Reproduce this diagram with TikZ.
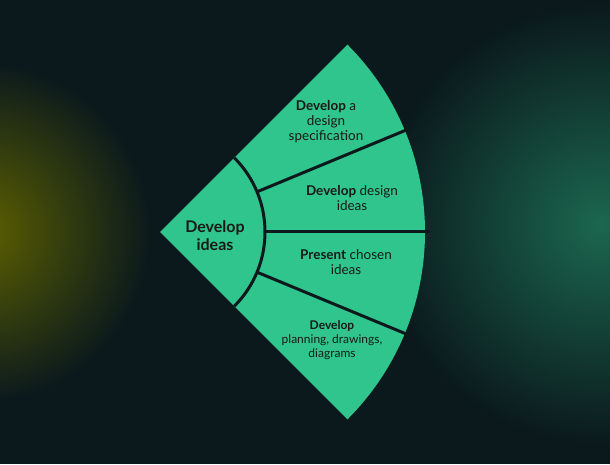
\documentclass[tikz,border=0pt]{standalone}
\usepackage{fontspec}
\setmainfont{Lato}
\begin{document}
\begin{tikzpicture}[x=1pt,y=1pt,
  lbl/.style={align=center,text=black!90,font=\fontsize{13.5}{15}\selectfont},
  sep/.style={draw=bgc,line width=3pt}]
\definecolor{bgc}{HTML}{0B191C}
\definecolor{fan}{HTML}{2FC58D}
\fill[bgc] (0,0) rectangle (610,464);
\useasboundingbox (0,0) rectangle (610,464);
\begin{scope}
\clip (0,0) rectangle (610,464);
\shade[inner color=olive!70!bgc, outer color=bgc] (-20,232) circle (170);
\shade[inner color=fan!45!bgc, outer color=bgc] (600,240) circle (220);
\end{scope}
\coordinate (c) at (160,232);
\fill[fan] (c) -- ++(45:265) arc (45:-45:265) -- cycle;
\draw[sep] (c) ++(45:105) arc (45:-45:105);
\foreach \a in {22.5,0,-22.5} \draw[sep] (c) ++(\a:105) -- ++(\a:165);
\node[lbl] (a) at (326,342) {\textbf{Develop} a\\design\\specification};
\node[lbl] (b) at (352,266) {\textbf{Develop} design\\ideas};
\node[lbl] (d) at (346,202) {\textbf{Present} chosen\\ideas};
\node[lbl,font=\fontsize{12}{14}\selectfont] (e) at (332,124) {\textbf{Develop}\\planning, drawings,\\diagrams};
\node[lbl,font=\bfseries\fontsize{16}{18}\selectfont] (m) at (215,228) {Develop\\ideas};
\end{tikzpicture}
\end{document}
